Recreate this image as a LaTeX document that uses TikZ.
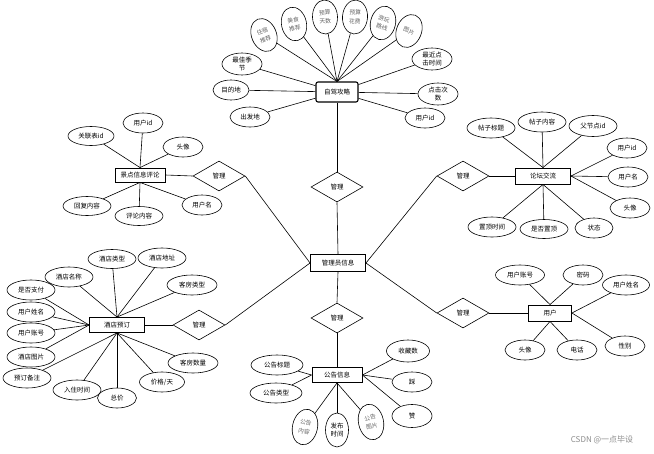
\documentclass[tikz,border=0pt]{standalone}
\usepackage{fontspec}
\newfontfamily\cjk{Noto Sans CJK SC}
\usetikzlibrary{shapes.geometric}
\begin{document}
\begin{tikzpicture}[x=1pt,y=-1pt,
  every node/.style={font=\cjk\fontsize{6.5}{7.5}\selectfont, align=center},
  attr/.style={ellipse, draw, line width=0.6pt, inner sep=0pt, minimum width=40pt, minimum height=20pt},
  wattr/.style={attr, minimum width=48pt},
  vattr/.style={attr, minimum width=25pt, minimum height=34pt, text=black!60, font=\cjk\fontsize{5.8}{8.5}\selectfont},
  ent/.style={rectangle, draw, line width=0.9pt, inner sep=1pt, minimum height=15pt},
  rel/.style={diamond, draw, line width=0.6pt, inner sep=0pt, minimum width=52pt, minimum height=30pt},
  ln/.style={line width=0.6pt}]
\useasboundingbox[fill=white] (0,0) rectangle (654,453);

% central entity and relations
\node[ent, minimum width=55pt, minimum height=17pt] (c) at (338,263) {管理员信息};
\node[rel] (d1) at (337,187) {管理};
\node[rel] (d4) at (337,318) {管理};
\node[rel] (d2) at (219,176) {管理};
\node[rel] (d3) at (463,176) {管理};
\node[rel] (d5) at (199,325) {管理};
\node[rel] (d6) at (463,313) {管理};

% entities
\node[ent, rounded corners=2pt, line width=1.1pt, minimum width=42pt, minimum height=20pt] (zj) at (337,92) {自驾攻略};
\node[ent, minimum width=50pt, minimum height=14pt] (pl) at (140,175) {景点信息评论};
\node[ent, minimum width=55pt, minimum height=16pt] (lt) at (543,176) {论坛交流};
\node[ent, minimum width=55pt, minimum height=15pt] (jd) at (117,325) {酒店预订};
\node[ent, minimum width=50pt, minimum height=15pt] (gg) at (337,375) {公告信息};
\node[ent, minimum width=43pt, minimum height=16pt] (yh) at (550,313) {用户};

% central connections
\draw[ln] (zj) -- (d1.north);
\draw[ln] (d1.south) -- (c.north);
\draw[ln] (c.south) -- (d4.north);
\draw[ln] (d4.south) -- (gg.north);
\draw[ln] (d2.east) -- (c.west);
\draw[ln] (d5.east) -- (c.west);
\draw[ln] (c.east) -- (d3.west);
\draw[ln] (c.east) -- (d6.west);
\draw[ln] (pl.east) -- (d2.west);
\draw[ln] (d3.east) -- (lt.west);
\draw[ln] (jd.east) -- (d5.west);
\draw[ln] (d6.east) -- (yh.west);

% 自驾攻略 attributes
\node[vattr, rotate=22] (z1) at (264,35) {住宿\\推荐};
\node[vattr, rotate=12] (z2) at (294,24) {美食\\推荐};
\node[vattr, rotate=3] (z3) at (325,17) {预算\\天数};
\node[vattr, rotate=-4] (z4) at (355,17) {预算\\花费};
\node[vattr, rotate=-14] (z5) at (383,23) {游玩\\路线};
\node[vattr, rotate=-22] (z6) at (409,31) {图片};
\node[attr, minimum height=22pt] (z7) at (242,64) {最佳季\\节};
\node[attr, minimum width=36pt] (z8) at (231,90) {目的地};
\node[attr] (z9) at (250,117) {出发地};
\node[attr, minimum height=22pt] (z10) at (432,59) {最近点\\击时间};
\node[attr, minimum height=22pt] (z11) at (438,94) {点击次\\数};
\node[attr] (z12) at (425,118) {用户id};
\foreach \a in {z1,z2,z3,z4,z5,z6} \draw[ln] (\a) -- (zj.north);
\foreach \a in {z7,z8,z9,z10,z11,z12} \draw[ln] (\a) -- (zj);

% 景点信息评论 attributes
\node[wattr, minimum width=46pt, minimum height=19pt] (p1) at (91,136) {关联表id};
\node[attr] (p2) at (143,123) {用户id};
\node[attr] (p3) at (183,147) {头像};
\node[wattr, minimum height=19pt] (p4) at (87,206) {回复内容};
\node[wattr, minimum height=19pt] (p5) at (139,216) {评论内容};
\node[attr] (p6) at (202,205) {用户名};
\foreach \a in {p1,p2,p3} \draw[ln] (\a) -- (pl.north);
\foreach \a in {p4,p5,p6} \draw[ln] (\a) -- (pl.south);

% 论坛交流 attributes
\node[wattr] (l1) at (491,128) {帖子标题};
\node[wattr] (l2) at (542,122) {帖子内容};
\node[wattr, minimum height=21pt] (l3) at (593,126) {父节点id};
\node[attr] (l4) at (627,148) {用户id};
\node[attr] (l5) at (628,177) {用户名};
\node[attr] (l6) at (630,208) {头像};
\node[wattr] (l7) at (492,227) {置顶时间};
\node[wattr, minimum height=19pt] (l8) at (544,229) {是否置顶};
\node[attr, minimum width=38pt] (l9) at (594,228) {状态};
\foreach \a in {l1,l2,l3} \draw[ln] (\a) -- (lt.north);
\foreach \a in {l4,l5,l6} \draw[ln] (\a) -- (lt.east);
\foreach \a in {l7,l8,l9} \draw[ln] (\a) -- (lt.south);

% 酒店预订 attributes
\node[wattr, minimum height=19pt] (j1) at (112,259) {酒店类型};
\node[wattr] (j2) at (162,258) {酒店地址};
\node[wattr] (j3) at (69,277) {酒店名称};
\node[wattr, minimum width=50pt] (j4) at (192,285) {客房类型};
\node[wattr] (j5) at (31,290) {是否支付};
\node[wattr] (j6) at (31,312) {用户姓名};
\node[wattr] (j7) at (31,333) {用户账号};
\node[wattr] (j8) at (31,357) {酒店图片};
\node[wattr] (j9) at (27,378) {预订备注};
\node[wattr] (j10) at (77,390) {入住时间};
\node[attr, minimum width=39pt] (j11) at (117,398) {总价};
\node[attr, minimum width=45pt] (j12) at (162,382) {价格/天};
\node[wattr, minimum width=50pt] (j13) at (193,363) {客房数量};
\foreach \a in {j1,j2,j3,j4} \draw[ln] (\a) -- (jd.north);
\foreach \a in {j5,j6,j7,j8} \draw[ln] (\a) -- (jd.west);
\foreach \a in {j9,j10,j11,j12,j13} \draw[ln] (\a) -- (jd.south);

% 公告信息 attributes
\node[wattr, minimum width=52pt] (g1) at (277,365) {公告标题};
\node[wattr, minimum width=52pt] (g2) at (276,393) {公告类型};
\node[vattr, rotate=-12, minimum height=36pt] (g3) at (305,427) {公告\\内容};
\node[vattr, minimum width=23pt, minimum height=34pt, text=black, font=\cjk\fontsize{6.5}{8.5}\selectfont] (g4) at (337,430) {发布\\时间};
\node[vattr, rotate=12, minimum height=36pt] (g5) at (371,422) {公告\\图片};
\node[attr, minimum width=43pt, minimum height=22pt] (g6) at (408,351) {收藏数};
\node[attr] (g7) at (412,382) {踩};
\node[attr, minimum height=23pt] (g8) at (412,416) {赞};
\foreach \a in {g1,g2} \draw[ln] (\a) -- (gg.west);
\foreach \a in {g3,g4,g5} \draw[ln] (\a) -- (gg.south);
\foreach \a in {g6,g7,g8} \draw[ln] (\a) -- (gg.east);

% 用户 attributes
\node[wattr, minimum width=49pt] (y1) at (520,275) {用户账号};
\node[attr] (y2) at (583,275) {密码};
\node[wattr, minimum width=47pt] (y3) at (626,285) {用户姓名};
\node[attr] (y4) at (625,346) {性别};
\node[attr] (y5) at (577,350) {电话};
\node[attr] (y6) at (525,350) {头像};
\foreach \a in {y1,y2} \draw[ln] (\a) -- (yh.north);
\foreach \a in {y3,y4} \draw[ln] (\a) -- (yh.east);
\foreach \a in {y5,y6} \draw[ln] (\a) -- (yh.south);

% watermark
\node[text=black!45, font=\cjk\fontsize{8}{9}\selectfont] (wm) at (602,440) {CSDN @一点毕设};
\end{tikzpicture}
\end{document}
